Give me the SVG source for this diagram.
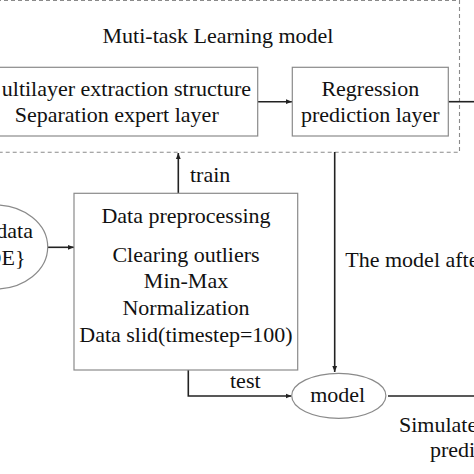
<svg xmlns="http://www.w3.org/2000/svg" width="474" height="474" viewBox="0 0 474 474">
<defs>
<style>
text{font-family:"Liberation Serif","Times New Roman",serif;font-size:22px;fill:#111}
.box{fill:#fff;stroke:#8a8a8a;stroke-width:1.2}
.ln{fill:none;stroke:#222;stroke-width:1.6}
.dash{fill:none;stroke:#8a8a8a;stroke-width:1.1;stroke-dasharray:4 3}
</style>
<marker id="ah" viewBox="0 0 10 10" refX="10" refY="5" markerWidth="6" markerHeight="6" markerUnits="userSpaceOnUse" orient="auto">
<path d="M0,1 L10,5 L0,9 Z" fill="#222"/>
</marker>
</defs>
<rect width="474" height="474" fill="#fff"/>
<g id="mtl-group">
<rect class="dash" x="-10" y="0.5" width="469.5" height="151.7"/>
<text x="218" y="43" text-anchor="middle">Muti-task Learning model</text>
</g>
<g id="connectors">
<line class="ln" x1="258" y1="101.7" x2="292" y2="101.7" marker-end="url(#ah)"/>
<line class="ln" x1="448" y1="101.7" x2="474" y2="101.7"/>
<line class="ln" x1="178.3" y1="193.3" x2="178.3" y2="153" marker-end="url(#ah)"/>
<line class="ln" x1="334.7" y1="152" x2="334.7" y2="372" marker-end="url(#ah)"/>
<line class="ln" x1="47.7" y1="247.3" x2="74" y2="247.3" marker-end="url(#ah)"/>
<polyline class="ln" points="188.3,370 188.3,396 291.5,396" marker-end="url(#ah)"/>
<line class="ln" x1="388" y1="396" x2="474" y2="396"/>
<text x="190" y="181.7">train</text>
<text x="230" y="388">test</text>
<text x="345.3" y="266.7">The model afte</text>
<text x="399" y="431.7">Simulate</text>
<text x="430" y="456.7">predi</text>
</g>
<g id="extract">
<rect class="box" x="-24" y="67.3" width="281.7" height="68.7"/>
<text x="251" y="95.7" text-anchor="end">ultilayer extraction structure</text>
<text x="116.7" y="121.7" text-anchor="middle">Separation expert layer</text>
</g>
<g id="regression">
<rect class="box" x="292.3" y="67.3" width="156" height="68.7"/>
<text x="370.3" y="96" text-anchor="middle">Regression</text>
<text x="370.3" y="122" text-anchor="middle">prediction layer</text>
</g>
<g id="data">
<ellipse class="box" cx="-5" cy="247" rx="52.7" ry="42"/>
<text x="33" y="238.3" text-anchor="end">data</text>
<text x="25.5" y="265" text-anchor="end">OE}</text>
</g>
<g id="preprocess">
<rect class="box" x="74" y="193.3" width="223.7" height="176.7"/>
<text x="186" y="223.3" text-anchor="middle">Data preprocessing</text>
<text x="186" y="261.7" text-anchor="middle">Clearing outliers</text>
<text x="186" y="288.3" text-anchor="middle">Min-Max</text>
<text x="186" y="315" text-anchor="middle">Normalization</text>
<text x="186" y="341.7" text-anchor="middle">Data slid(timestep=100)</text>
</g>
<g id="model">
<ellipse class="box" cx="338.8" cy="395.8" rx="47.1" ry="22.5"/>
<text x="337.7" y="401.7" text-anchor="middle">model</text>
</g>
</svg>
